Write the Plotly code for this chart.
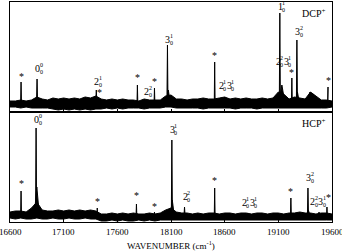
import plotly.graph_objects as go

# ---------------- data ----------------
WN_GRID = list(range(16600, 19601, 50))  # sample positions of the noise envelope (cm^-1)

DCP_NOISE_HI = [11, 11, 12, 11, 12, 15, 13, 12, 14, 13, 14, 13, 14, 13, 15, 14, 16, 13, 12, 13,
                12, 13, 12, 12, 11, 13, 12, 12, 12, 16, 17, 13, 13, 12, 13, 13, 14, 13, 13, 14,
                15, 13, 14, 13, 14, 13, 13, 14, 13, 14, 20, 18, 13, 15, 14, 13, 20, 16, 12, 12, 11]
DCP_NOISE_LO = [5, 5, 4, 5, 4, 4, 4, 4, 3, 2, 3, 2, 3, 2, 3, 2, 3, 3, 4, 3,
                4, 3, 4, 4, 4, 3, 4, 4, 4, 5, 5, 4, 4, 4, 4, 4, 3, 4, 4, 4,
                4, 4, 3, 4, 4, 4, 3, 4, 4, 4, 4, 4, 4, 4, 4, 4, 4, 4, 4, 4, 5]

HCP_NOISE_HI = [10, 11, 11, 10, 14, 20, 12, 11, 11, 12, 11, 12, 11, 12, 11, 12, 11, 8, 8, 9,
                8, 9, 8, 9, 8, 8, 9, 8, 9, 12, 14, 10, 9, 9, 8, 9, 8, 9, 9, 8,
                9, 9, 8, 9, 9, 8, 9, 9, 8, 9, 9, 8, 9, 9, 10, 9, 9, 8, 9, 9, 8]
HCP_NOISE_LO = [4, 3, 4, 3, 3, 4, 3, 3, 4, 3, 3, 4, 3, 3, 4, 3, 3, 1, 1, 2,
                1, 2, 1, 1, 2, 1, 2, 1, 2, 2, 2, 2, 2, 2, 2, 2, 2, 2, 2, 2,
                2, 2, 2, 2, 2, 2, 2, 2, 2, 2, 2, 2, 2, 2, 2, 2, 2, 2, 2, 2, 2]

DCP_PEAK_CM = [16703, 16852, 16860, 17404, 17428, 17787, 17871, 17946, 18067, 18075,
               18507, 18600, 19114, 19133, 19226, 19273, 19278, 19395, 19425, 19563]
DCP_PEAK_H = [30, 33, 14, 22, 13, 27, 12, 24, 67, 22, 50, 15, 99, 27, 34, 72, 20, 20, 18, 25]
DCP_PEAK_W = [4, 5, 25, 6, 3, 4, 15, 4, 5, 20, 4, 8, 5, 30, 4, 5, 20, 25, 20, 3]

HCP_PEAK_CM = [16703, 16843, 16850, 17413, 17778, 17946, 18108, 18112, 18226, 18507,
               18815, 19217, 19376, 19380, 19479, 19553]
HCP_PEAK_H = [31, 94, 35, 14, 18, 10, 82, 22, 15, 34, 9, 24, 34, 12, 10, 15]
HCP_PEAK_W = [4, 5, 25, 4, 4, 4, 5, 20, 6, 4, 8, 4, 5, 18, 4, 4]

DCP_BASE = 8
HCP_BASE = 5

# labels: (wavenumber, height, list of (digit, sub, sup)) ; "*" marks
DCP_LABELS = [
    (16703, 31, "*"), (16852, 36, [("0", "0", "0")]), (17404, 23, [("2", "0", "1")]),
    (17430, 15, "*"), (17787, 30, "*"), (17871, 13, [("2", "0", "2")]), (17946, 26, "*"),
    (18067, 65, [("3", "0", "1")]), (18507, 52, "*"), (18600, 19, [("2", "0", "1"), ("3", "0", "1")]),
    (19114, 98, [("1", "0", "1")]), (19133, 43, [("2", "0", "2"), ("3", "0", "1")]),
    (19226, 35, "*"), (19273, 73, [("3", "0", "2")]), (19563, 27, "*"),
]
HCP_LABELS = [
    (16703, 34, "*"), (16843, 95, [("0", "0", "0")]), (17413, 16, "*"), (17778, 22, "*"),
    (17946, 11, "*"), (18108, 85, [("3", "0", "1")]), (18226, 18, [("2", "0", "2")]),
    (18507, 37, "*"), (18815, 12, [("2", "0", "1"), ("3", "0", "1")]), (19217, 26, "*"),
    (19376, 37, [("3", "0", "2")]), (19450, 13, [("2", "0", "2"), ("3", "0", "1")]), (19563, 20, "*"),
]
X_TICKS = [16600, 17100, 17600, 18100, 18600, 19100, 19600]
X_TICK_TEXT = ["16600", "17100", "17600", "18100", "18600", "19100", "19600"]
X_TITLE = "WAVENUMBER (cm<sup>-1</sup>)"

FONT = "Liberation Serif"


def band_shape(hi, lo):
    xs = WN_GRID + WN_GRID[::-1] + [WN_GRID[0]]
    ys = hi + lo[::-1] + [hi[0]]
    return xs, ys


def peak_shape(cms, hs, ws, base):
    xs, ys = [], []
    for c, h, w in zip(cms, hs, ws):
        xs += [c - w, c, c + w, c - w, None]
        ys += [base, h, base, base, None]
    return xs, ys


fig = go.Figure()
for (hi, lo, cms, hs, ws, base, xa, ya) in [
    (DCP_NOISE_HI, DCP_NOISE_LO, DCP_PEAK_CM, DCP_PEAK_H, DCP_PEAK_W, DCP_BASE, "x2", "y2"),
    (HCP_NOISE_HI, HCP_NOISE_LO, HCP_PEAK_CM, HCP_PEAK_H, HCP_PEAK_W, HCP_BASE, "x", "y"),
]:
    bx, by = band_shape(hi, lo)
    fig.add_trace(go.Scatter(x=bx, y=by, xaxis=xa, yaxis=ya, mode="lines",
                             fill="toself", fillcolor="black",
                             line=dict(color="black", width=1), hoverinfo="skip",
                             showlegend=False))
    px, py = peak_shape(cms, hs, ws, base)
    fig.add_trace(go.Scatter(x=px, y=py, xaxis=xa, yaxis=ya, mode="lines",
                             fill="toself", fillcolor="black",
                             line=dict(color="black", width=1), hoverinfo="skip",
                             showlegend=False))

ann = []


def add_labels(labels, xref, yref):
    for x, y, lab in labels:
        if lab == "*":
            ann.append(dict(x=x, y=y, xref=xref, yref=yref, text="*", showarrow=False,
                            font=dict(family=FONT, size=10, color="black"),
                            xanchor="center", yanchor="bottom", yshift=-3))
            continue
        gw = 8.0
        start = -len(lab) * gw / 2
        for i, (d, sub, sup) in enumerate(lab):
            xs0 = start + i * gw
            ann.append(dict(x=x, y=y, xref=xref, yref=yref, text=d, showarrow=False,
                            font=dict(family=FONT, size=10, color="black"),
                            xanchor="left", yanchor="bottom", xshift=xs0, yshift=0))
            ann.append(dict(x=x, y=y, xref=xref, yref=yref, text=sup, showarrow=False,
                            font=dict(family=FONT, size=6, color="black"),
                            xanchor="left", yanchor="bottom", xshift=xs0 + 4.6, yshift=6))
            ann.append(dict(x=x, y=y, xref=xref, yref=yref, text=sub, showarrow=False,
                            font=dict(family=FONT, size=6, color="black"),
                            xanchor="left", yanchor="bottom", xshift=xs0 + 4.6, yshift=-1))


add_labels(DCP_LABELS, "x2", "y2")
add_labels(HCP_LABELS, "x", "y")
ann.append(dict(x=0.985, y=0.985, xref="paper", yref="paper", text="DCP<sup>+</sup>",
                showarrow=False, xanchor="right", yanchor="top",
                font=dict(family=FONT, size=10, color="black")))
ann.append(dict(x=0.985, y=0.485, xref="paper", yref="paper", text="HCP<sup>+</sup>",
                showarrow=False, xanchor="right", yanchor="top",
                font=dict(family=FONT, size=10, color="black")))
# tick labels as annotations so the edge labels are not dropped
for v, t in zip(X_TICKS, X_TICK_TEXT):
    ann.append(dict(x=v, y=0, xref="x", yref="paper", text=t, showarrow=False,
                    xanchor="center", yanchor="top", yshift=-3,
                    font=dict(family=FONT, size=9, color="black")))
ann.append(dict(x=0.5, y=0, xref="paper", yref="paper", text=X_TITLE, showarrow=False,
                xanchor="center", yanchor="top", yshift=-15,
                font=dict(family=FONT, size=9, color="black")))

axis_common = dict(range=[16600, 19600], tickvals=X_TICKS, ticktext=X_TICK_TEXT,
                   ticks="inside", ticklen=3, showticklabels=False,
                   tickcolor="black", tickwidth=1, showline=True, linecolor="black",
                   linewidth=1, mirror=True, showgrid=False, zeroline=False)
yaxis_common = dict(range=[0, 110], showticklabels=False, ticks="", showline=True,
                    linecolor="black", linewidth=1, mirror=True, showgrid=False,
                    zeroline=False)

fig.update_layout(
    width=342, height=251,
    margin=dict(l=10, r=10, t=2, b=29),
    paper_bgcolor="white", plot_bgcolor="white",
    font=dict(family=FONT, size=9, color="black"),
    xaxis=dict(**axis_common, anchor="y"),
    xaxis2=dict(**axis_common, anchor="y2", matches="x"),
    yaxis=dict(**yaxis_common, domain=[0, 0.5], anchor="x"),
    yaxis2=dict(**yaxis_common, domain=[0.5, 1], anchor="x2"),
    annotations=ann,
)

fig.write_html("out.html", config={"displayModeBar": False},
               post_script="document.body.style.margin='0';document.body.style.overflow='hidden';")
